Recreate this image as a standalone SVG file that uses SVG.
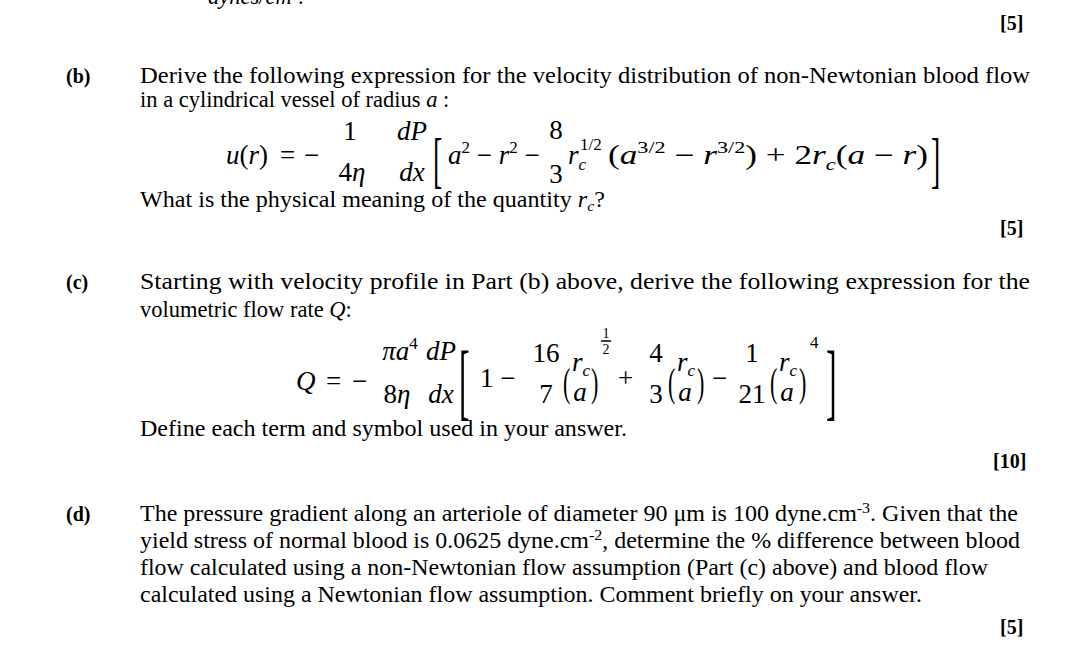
<svg xmlns="http://www.w3.org/2000/svg" width="1082" height="670" viewBox="0 0 1082 670">
<style>
text{font-family:"Liberation Serif","Times New Roman",serif;fill:#000}
.t{font-size:22.5px}
.b{font-size:20px;font-weight:bold}
.m{font-size:27px;font-style:italic}
.n{font-size:27px;font-style:normal}
.s{font-size:17px}
.c{text-anchor:middle}
</style>
<rect width="1082" height="670" fill="#fff"/>
<text class="t" x="208" y="4" font-style="italic">dynes/cm².</text>
<text class="b" x="1000" y="30">[5]</text>

<text class="b" x="66" y="83">(b)</text>
<text class="t" x="140" y="83" textLength="890" lengthAdjust="spacingAndGlyphs">Derive the following expression for the velocity distribution of non-Newtonian blood flow</text>
<text class="t" x="140" y="107">in a cylindrical vessel of radius <tspan font-style="italic">a</tspan> :</text>

<g class="eq1">
<text class="m" x="226" y="164">u<tspan class="n">(</tspan>r<tspan class="n">)</tspan></text>
<text class="n" x="280" y="164">=</text>
<text class="n" x="304" y="164">−</text>
<text class="n c" x="350" y="140">1</text>
<text class="m c" x="352" y="181"><tspan class="n">4</tspan>η</text>
<text class="m c" x="412" y="140">dP</text>
<text class="m c" x="412" y="181">dx</text>
<text style="font-size:62px;font-style:normal" x="433" y="181" transform="translate(433 181) scale(0.45 1) translate(-433 -181)">[</text>
<text class="m" x="448" y="164">a<tspan class="s" dy="-11" font-style="normal">2</tspan><tspan class="n" dy="11"> − </tspan>r<tspan class="s" dy="-11" font-style="normal">2</tspan><tspan class="n" dy="11"> −</tspan></text>
<text class="n c" x="556" y="139">8</text>
<text class="n c" x="556" y="183">3</text>
<text class="m" x="568" y="164">r<tspan class="s" dy="6">c</tspan></text>
<text class="s" x="580" y="150">1/2</text>
<text class="m" x="608" y="164" textLength="320" lengthAdjust="spacingAndGlyphs"><tspan class="n">(</tspan>a<tspan class="s" dy="-11" font-style="normal">3/2</tspan><tspan class="n" dy="11"> − </tspan>r<tspan class="s" dy="-11" font-style="normal">3/2</tspan><tspan class="n" dy="11">) + 2</tspan>r<tspan class="s" dy="6">c</tspan><tspan class="n" dy="-6">(</tspan>a<tspan class="n"> − </tspan>r<tspan class="n">)</tspan></text>
<text style="font-size:62px;font-style:normal" x="931" y="181" transform="translate(931 181) scale(0.45 1) translate(-931 -181)">]</text>
</g>

<text class="t" x="140" y="207" textLength="465" lengthAdjust="spacingAndGlyphs">What is the physical meaning of the quantity <tspan font-style="italic">r<tspan font-size="15" dy="4">c</tspan></tspan><tspan dy="-4">?</tspan></text>
<text class="b" x="1000" y="235">[5]</text>

<text class="b" x="66" y="289">(c)</text>
<text class="t" x="140" y="289" textLength="890" lengthAdjust="spacingAndGlyphs">Starting with velocity profile in Part (b) above, derive the following expression for the</text>
<text class="t" x="140" y="317">volumetric flow rate <tspan font-style="italic">Q</tspan>:</text>

<g class="eq2">
<text class="m" x="296" y="390">Q</text>
<text class="n" x="326" y="390">=</text>
<text class="n" x="352" y="390">−</text>
<text class="m c" x="400" y="360">πa<tspan class="s" dy="-11" font-style="normal">4</tspan></text>
<text class="m c" x="397" y="403"><tspan class="n">8</tspan>η</text>
<text class="m c" x="441" y="360">dP</text>
<text class="m c" x="441" y="403">dx</text>
<text style="font-size:84px;font-style:normal" x="459" y="410" transform="translate(459 410) scale(0.38 1) translate(-459 -410)">[</text>
<text class="n" x="480" y="387">1 −</text>
<text class="n c" x="546" y="362">16</text>
<text class="n c" x="546" y="403">7</text>
<text style="font-size:40px" x="563" y="396" transform="translate(563 396) scale(0.55 1) translate(-563 -396)">(</text>
<text class="m c" x="581" y="371">r<tspan font-size="17" dy="5">c</tspan></text>
<text class="m c" x="580" y="401">a</text>
<text style="font-size:40px" x="591" y="396" transform="translate(591 396) scale(0.55 1) translate(-591 -396)">)</text>
<text class="c" style="font-size:14px" x="606" y="338">1</text>
<line x1="601" y1="341" x2="611" y2="341" stroke="#000" stroke-width="1.5"/>
<text class="c" style="font-size:14px" x="606" y="354">2</text>
<text class="n" x="618" y="387">+</text>
<text class="n c" x="656" y="362">4</text>
<text class="n c" x="656" y="403">3</text>
<text style="font-size:40px" x="668" y="396" transform="translate(668 396) scale(0.55 1) translate(-668 -396)">(</text>
<text class="m c" x="686" y="371">r<tspan font-size="17" dy="5">c</tspan></text>
<text class="m c" x="685" y="401">a</text>
<text style="font-size:40px" x="697" y="396" transform="translate(697 396) scale(0.55 1) translate(-697 -396)">)</text>
<text class="n" x="712" y="387">−</text>
<text class="n c" x="752" y="362">1</text>
<text class="n c" x="752" y="403">21</text>
<text style="font-size:40px" x="770" y="396" transform="translate(770 396) scale(0.55 1) translate(-770 -396)">(</text>
<text class="m c" x="788" y="371">r<tspan font-size="17" dy="5">c</tspan></text>
<text class="m c" x="787" y="401">a</text>
<text style="font-size:40px" x="799" y="396" transform="translate(799 396) scale(0.55 1) translate(-799 -396)">)</text>
<text class="s" x="810" y="348">4</text>
<text style="font-size:84px;font-style:normal" x="826" y="410" transform="translate(826 410) scale(0.38 1) translate(-826 -410)">]</text>
</g>

<text class="t" x="140" y="436" textLength="487" lengthAdjust="spacingAndGlyphs">Define each term and symbol used in your answer.</text>
<text class="b" x="993" y="468">[10]</text>

<text class="b" x="66" y="521">(d)</text>
<text class="t" x="140" y="521" textLength="878" lengthAdjust="spacingAndGlyphs">The pressure gradient along an arteriole of diameter 90 μm is 100 dyne.cm<tspan font-size="15" dy="-8">-3</tspan><tspan dy="8">. Given that the</tspan></text>
<text class="t" x="140" y="548" textLength="880" lengthAdjust="spacingAndGlyphs">yield stress of normal blood is 0.0625 dyne.cm<tspan font-size="15" dy="-8">-2</tspan><tspan dy="8">, determine the % difference between blood</tspan></text>
<text class="t" x="140" y="575" textLength="848" lengthAdjust="spacingAndGlyphs">flow calculated using a non-Newtonian flow assumption (Part (c) above) and blood flow</text>
<text class="t" x="140" y="602" textLength="782" lengthAdjust="spacingAndGlyphs">calculated using a Newtonian flow assumption. Comment briefly on your answer.</text>
<text class="b" x="1000" y="634">[5]</text>
</svg>
